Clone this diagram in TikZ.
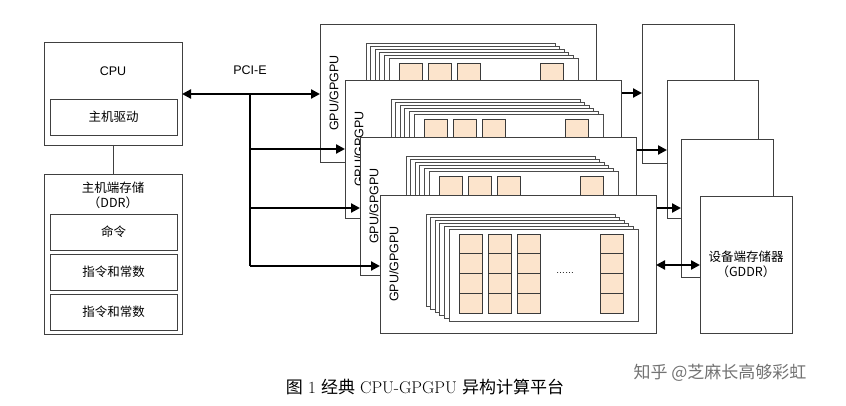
\documentclass[tikz,border=0pt]{standalone}
\usepackage{fontspec}
\setsansfont{Liberation Sans}
\newfontfamily\cjk{Noto Sans CJK SC}
\usetikzlibrary{arrows.meta}
\definecolor{cellfill}{HTML}{FCE4CC}
\definecolor{cellline}{HTML}{3A3A3A}
\tikzset{
  x=1pt,y=-1pt,
  box/.style={draw=black!75,fill=white,line width=0.8pt,anchor=north west,inner sep=0pt,outer sep=0pt},
  txt/.style={font=\cjk\fontsize{12.5}{15}\selectfont},
  lat/.style={font=\sffamily\fontsize{12.5}{15}\selectfont},
  bus/.style={line width=2.2pt,-{Triangle[length=9pt,width=9pt]}},
  busb/.style={line width=2.2pt,{Triangle[length=9pt,width=9pt]}-{Triangle[length=9pt,width=9pt]}},
  layer/.style={draw=black!70,fill=white,line width=0.7pt},
  cell/.style={draw=cellline,fill=cellfill,line width=0.8pt},
}
\newcommand{\gpuboard}[3]{%
  \node[box,minimum width=276pt,minimum height=138pt] (#3) at (#1,#2) {};
  \node[rotate=90,lat] at (#1+14,#2+69) {GPU/GPGPU};
  \foreach \i in {0,...,5}{
    \draw[layer] (#1+46+4.6*\i,#2+19+3*\i) rectangle ++(189,92);
  }
  \foreach \cx in {79,108,137,220}{
    \foreach \r in {0,...,3}{
      \draw[cell] (#1+\cx,#2+39+19.75*\r) rectangle ++(23,19.75);
    }
  }
  \node[font=\sffamily\fontsize{9}{10}\selectfont] at (#1+185,#2+78) {\dots\dots};
}
\begin{document}
\begin{tikzpicture}
\useasboundingbox (0,0) rectangle (846,406);
\fill[white] (0,0) rectangle (846,406);
% left side
\node[box,minimum width=138pt,minimum height=103pt] (cpu) at (44,42) {};
\node[lat] (cpul) at (113,71) {CPU};
\node[box,minimum width=127pt,minimum height=36pt] (drv) at (50,99) {};
\node[txt] at (drv.center) {主机驱动};
\node[box,minimum width=138pt,minimum height=160pt] (ddr) at (44,174) {};
\node[txt,align=center] (ddrl) at (113,195) {主机端存储\\（DDR）};
\node[box,minimum width=127pt,minimum height=36pt] (cmd) at (50,214) {};
\node[txt] at (cmd.center) {命令};
\node[box,minimum width=127pt,minimum height=36pt] (ins1) at (50,254) {};
\node[txt] at (ins1.center) {指令和常数};
\node[box,minimum width=127pt,minimum height=36pt] (ins2) at (50,294) {};
\node[txt] at (ins2.center) {指令和常数};
\draw[black!75,line width=0.8pt] (cpu.south) -- (ddr.north);
% memory boxes
\node[box,minimum width=92pt,minimum height=139pt] (m1) at (642,24) {};
\node[box,minimum width=91pt,minimum height=138pt] (m2) at (667,80) {};
\node[box,minimum width=92pt,minimum height=138pt] (m3) at (681,139) {};
\node[box,minimum width=92pt,minimum height=137pt] (m4) at (700,196) {};
\node[txt,align=center] at (m4.center) {设备端存储器\\（GDDR）};
% arrows to memories (under the boards)
\coordinate (a1) at (596,93);
\coordinate (a2) at (620,150);
\coordinate (a3) at (635,208);
\draw[bus] (a1) -- (m1.west |- a1);
\draw[bus] (a2) -- (m2.west |- a2);
\draw[bus] (a3) -- (m3.west |- a3);
% boards
\gpuboard{320}{24}{g1}
\gpuboard{345}{80}{g2}
\gpuboard{360}{137}{g3}
\gpuboard{380}{195}{g4}
% bus
\coordinate (j0) at (250,94);
\coordinate (j1) at (250,149);
\coordinate (j2) at (250,208);
\coordinate (j3) at (250,266);
\node[lat] at (250,70) {PCI-E};
\draw[busb] (cpu.east |- j0) -- (g1.west |- j0);
\draw[line width=2.2pt] (j0) -- (j3);
\draw[bus] (j1) -- (g2.west |- j1);
\draw[bus] (j2) -- (g3.west |- j2);
\draw[bus] (j3) -- (g4.west |- j3);
\draw[busb] (g4.east |- 0,265) -- (m4.west |- 0,265);
% caption
\node[font=\fontsize{17}{19}\selectfont] (cap) at (425,387) {{\cjk 图} 1 {\cjk 经典} CPU-GPGPU {\cjk 异构计算平台}};
\node[text=black!55,font=\cjk\fontsize{17}{19}\selectfont] (wm) at (720,373) {知乎 @芝麻长高够彩虹};
\end{tikzpicture}
\end{document}
